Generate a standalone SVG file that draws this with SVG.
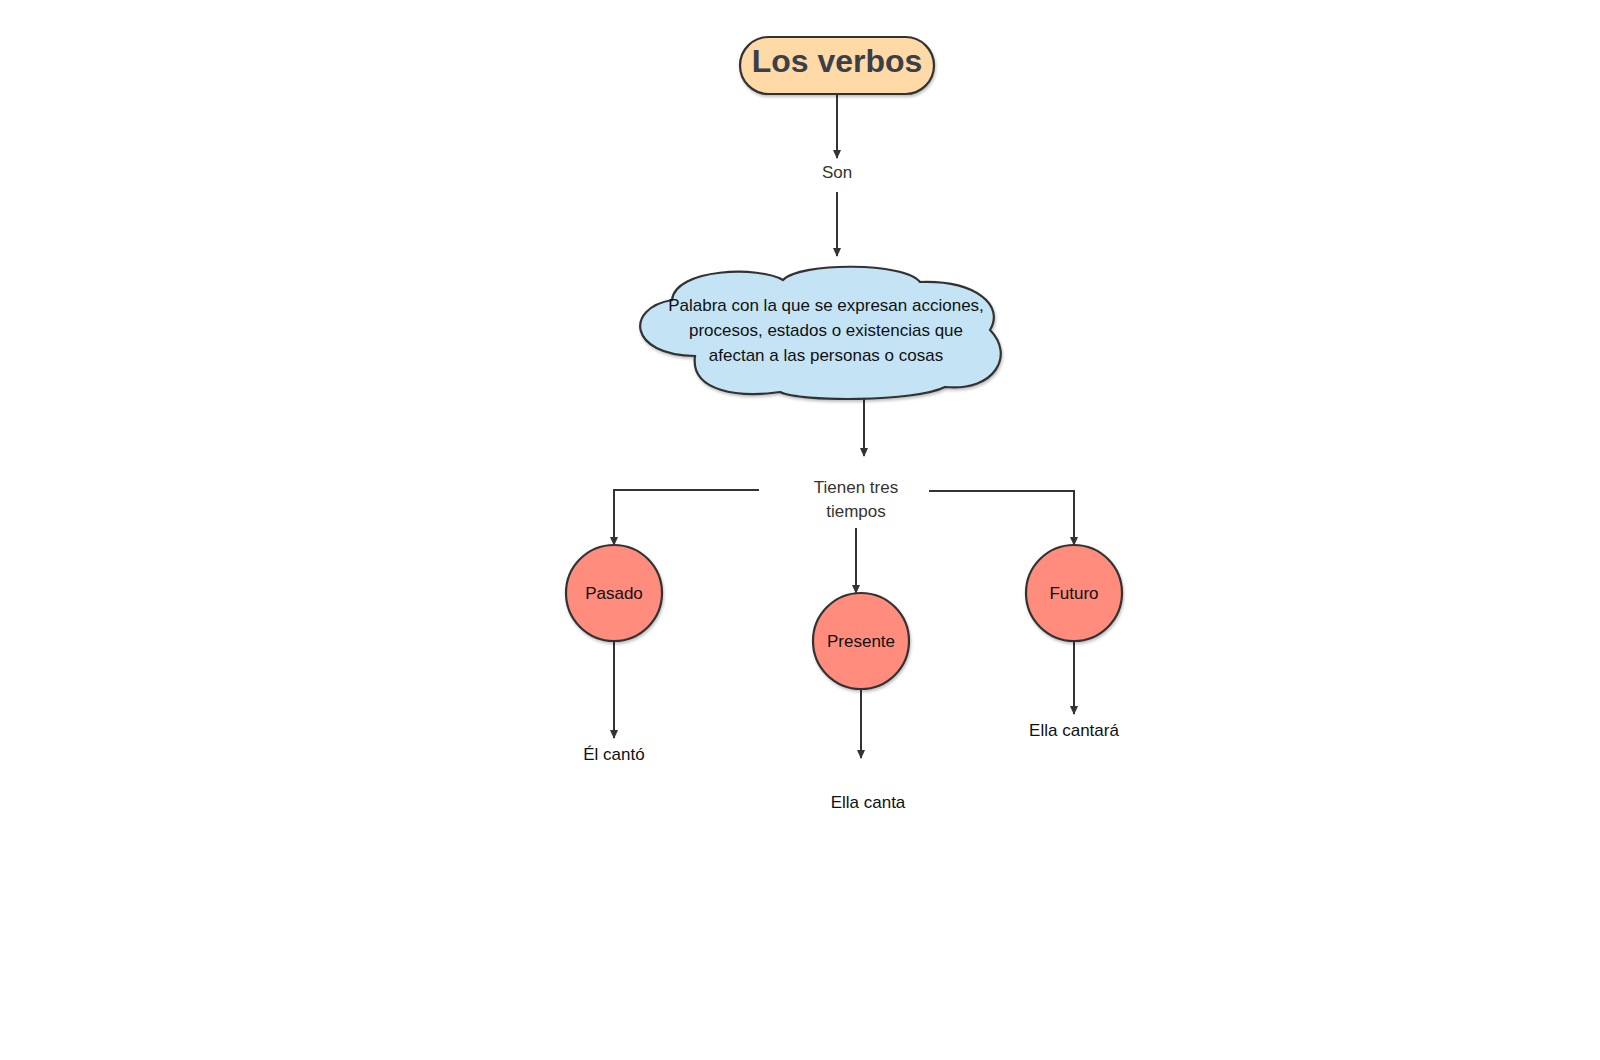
<svg xmlns="http://www.w3.org/2000/svg" width="1600" height="1060" viewBox="0 0 1600 1060">
<style>
.n{stroke:#333;stroke-width:2.2}
.t{font-family:"Liberation Sans",Arial,sans-serif;font-size:17px;fill:#111;text-anchor:middle}
.g{fill:#333}
.c{stroke:#333;stroke-width:2;fill:none;marker-end:url(#a)}
</style>
<defs>
<marker id="a" markerWidth="10" markerHeight="10" refX="8" refY="5" orient="auto" markerUnits="userSpaceOnUse"><path d="M0,1 L9,5 L0,9 Z" fill="#333"/></marker>
<filter id="s" x="-20%" y="-20%" width="140%" height="140%"><feDropShadow dx="1" dy="2" stdDeviation="1.5" flood-opacity="0.25"/></filter>
</defs>
<rect width="1600" height="1060" fill="#fff"/>
<g id="connectors">
<path class="c" d="M837,95 V158"/>
<path class="c" d="M837,192 V256"/>
<path class="c" d="M864,398 V456"/>
<path class="c" d="M759,490 H614 V545"/>
<path class="c" d="M929,491 H1074 V545"/>
<path class="c" d="M856,528 V593"/>
<path class="c" d="M614,642 V738"/>
<path class="c" d="M861,688 V758"/>
<path class="c" d="M1074,642 V714"/>
</g>
<g id="n1"><rect class="n" x="740" y="37" width="194" height="57" rx="28.5" fill="#ffd9a6" filter="url(#s)"/><text class="t" x="837" y="72" style="font-size:32px;font-weight:bold;fill:#3a3f4a">Los verbos</text></g>
<g id="n2"><text class="t g" x="837" y="178">Son</text></g>
<g id="n3"><path class="n" fill="#c4e4f6" filter="url(#s)" d="M695,356 C628,355 625,308 672,300 C675,268 760,266 783,280 C800,262 905,262 920,282 C975,280 1005,305 990,330 C1015,355 995,392 945,387 C915,402 800,402 780,392 C740,398 690,392 695,356 Z"/>
<text class="t" x="826" y="311">Palabra con la que se expresan acciones,</text>
<text class="t" x="826" y="336">procesos, estados o existencias que</text>
<text class="t" x="826" y="361">afectan a las personas o cosas</text></g>
<g id="n4"><text class="t g" x="856" y="493">Tienen tres</text><text class="t g" x="856" y="517">tiempos</text></g>
<g id="n5"><circle class="n" cx="614" cy="593" r="48" fill="#ff8c7c" filter="url(#s)"/><text class="t" x="614" y="599">Pasado</text></g>
<g id="n6"><circle class="n" cx="861" cy="641" r="48" fill="#ff8c7c" filter="url(#s)"/><text class="t" x="861" y="647">Presente</text></g>
<g id="n7"><circle class="n" cx="1074" cy="593" r="48" fill="#ff8c7c" filter="url(#s)"/><text class="t" x="1074" y="599">Futuro</text></g>
<g id="n8"><text class="t" x="614" y="760">Él cantó</text></g>
<g id="n9"><text class="t" x="868" y="808">Ella canta</text></g>
<g id="n10"><text class="t" x="1074" y="736">Ella cantará</text></g>
</svg>
